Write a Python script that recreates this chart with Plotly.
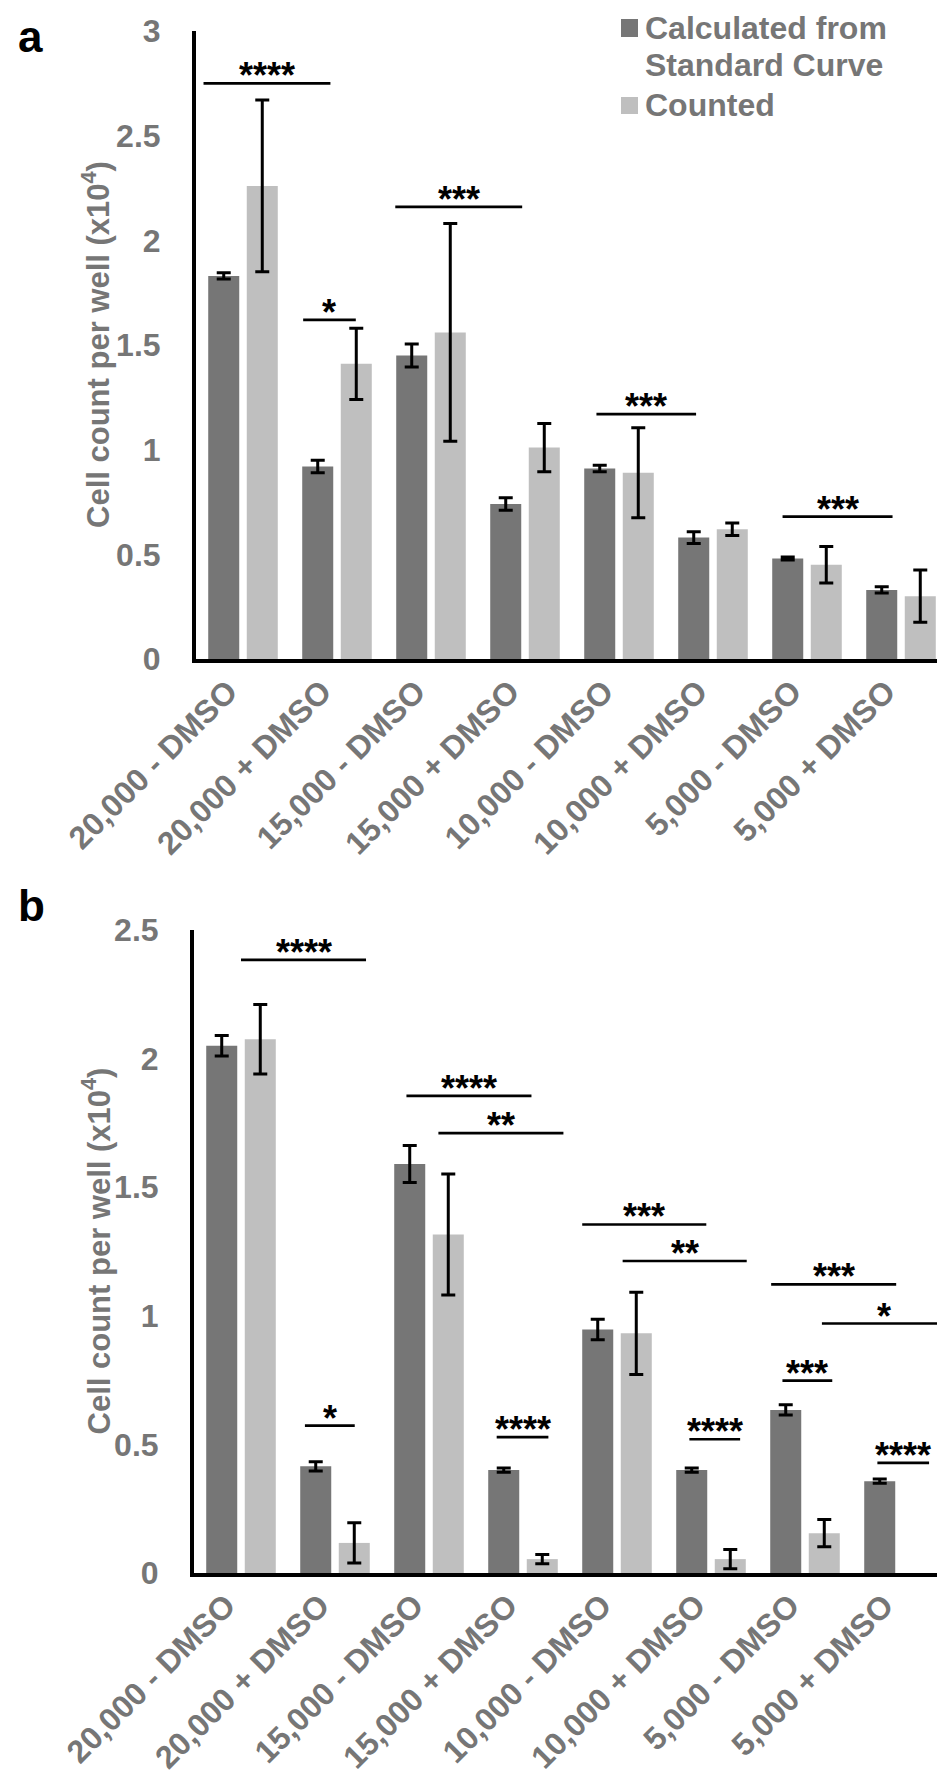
import plotly.graph_objects as go

# categories shared by both panels
categories = ["20,000 - DMSO", "20,000 + DMSO", "15,000 - DMSO", "15,000 + DMSO",
              "10,000 - DMSO", "10,000 + DMSO", "5,000 - DMSO", "5,000 + DMSO"]

# panel a (x10^4 cells per well)
calc_a = [1.83, 0.92, 1.45, 0.74, 0.91, 0.58, 0.48, 0.33]
calc_a_err = [0.015, 0.03, 0.055, 0.03, 0.015, 0.028, 0.007, 0.015]
count_a = [2.26, 1.41, 1.56, 1.01, 0.89, 0.62, 0.45, 0.30]
count_a_err = [0.41, 0.17, 0.52, 0.115, 0.215, 0.03, 0.087, 0.125]

# panel b
calc_b = [2.05, 0.415, 1.59, 0.40, 0.947, 0.40, 0.634, 0.357]
calc_b_err = [0.04, 0.018, 0.072, 0.008, 0.04, 0.008, 0.02, 0.008]
count_b = [2.075, 0.117, 1.316, 0.054, 0.932, 0.054, 0.155, None]
count_b_err = [0.135, 0.078, 0.235, 0.018, 0.16, 0.037, 0.053, None]

# significance bars: (start, end) in category units, height, label
sig_a_start = [-0.42, 0.64, 1.62, 3.76, 5.74]
sig_a_end = [0.93, 1.20, 2.97, 4.82, 6.91]
sig_a_y = [2.75, 1.62, 2.16, 1.17, 0.68]
sig_a_text = ["****", "*", "***", "***", "***"]

sig_b_start = [-0.30, 0.00, 0.68, 1.76, 2.10, 2.72, 3.63, 4.06, 4.77, 5.64, 6.18, 5.76, 6.77]
sig_b_end = [1.01, 1.33, 1.21, 3.09, 3.43, 3.27, 4.95, 5.38, 5.31, 6.97, 7.50, 6.29, 7.32]
sig_b_y = [2.524, 2.384, 0.573, 1.855, 1.71, 0.528, 1.355, 1.213, 0.52, 1.122, 0.97, 0.748, 0.428]
sig_b_text = ["****", "****", "*", "****", "**", "****", "***", "**", "****", "***", "*", "***", "****"]

legend_names = ["Calculated from", "Standard Curve", "Counted"]

DARK = "#767676"
LIGHT = "#bfbfbf"
GREY_TXT = "#767676"
FONT = "Liberation Sans"
W, H = 945, 1777

positions = list(range(len(categories)))

fig = go.Figure()


def add_panel(calc, calc_err, count, count_err, xa, ya):
    fig.add_trace(go.Bar(
        x=positions, y=calc, width=0.33, offset=-0.37,
        marker=dict(color=DARK, line=dict(width=0)),
        error_y=dict(type="data", array=calc_err, color="black", thickness=3, width=7),
        xaxis=xa, yaxis=ya, showlegend=False, name="Calculated from Standard Curve"
    ))
    fig.add_trace(go.Bar(
        x=positions, y=count, width=0.33, offset=0.04,
        marker=dict(color=LIGHT, line=dict(width=0)),
        error_y=dict(type="data", array=count_err, color="black", thickness=3, width=7),
        xaxis=xa, yaxis=ya, showlegend=False, name="Counted"
    ))


def add_sig(starts, ends, ys, texts, xa, ya):
    for s, e, y, t in zip(starts, ends, ys, texts):
        fig.add_trace(go.Scatter(
            x=[s, e], y=[y, y], mode="lines", line=dict(color="black", width=2.7),
            xaxis=xa, yaxis=ya, showlegend=False, hoverinfo="skip", cliponaxis=False
        ))
        fig.add_annotation(
            x=(s + e) / 2, y=y, xref=xa, yref=ya, text=f"<b>{t}</b>", showarrow=False,
            xanchor="center", yanchor="bottom", yshift=-15,
            font=dict(family=FONT, size=36, color="black")
        )


add_panel(calc_a, calc_a_err, count_a, count_a_err, "x", "y")
add_panel(calc_b, calc_b_err, count_b, count_b_err, "x2", "y2")
add_sig(sig_a_start, sig_a_end, sig_a_y, sig_a_text, "x", "y")
add_sig(sig_b_start, sig_b_end, sig_b_y, sig_b_text, "x2", "y2")

axis_common = dict(showline=True, linecolor="black", linewidth=4, showgrid=False,
                   zeroline=False, ticks="", mirror=False, automargin=False)
tickfont = dict(family=FONT, size=32, color=GREY_TXT, weight="bold")
xtick = dict(range=[-0.5, 7.5], tickvals=positions, ticktext=categories, tickangle=-45,
             tickfont=tickfont, ticklabelstandoff=-3, ticklabelshift=-15)

fig.update_layout(
    xaxis=dict(domain=[188 / W, 940 / W], anchor="y", **xtick, **axis_common),
    yaxis=dict(domain=[1 - 651 / H, 1 - 23 / H], range=[0, 3], dtick=0.5,
               tickfont=tickfont, ticklabelstandoff=25, anchor="x", **axis_common),
    xaxis2=dict(domain=[186 / W, 938 / W], anchor="y2", **xtick, **axis_common),
    yaxis2=dict(domain=[1 - 1565 / H, 1 - 922 / H], range=[0, 2.5], dtick=0.5,
                tickfont=tickfont, ticklabelstandoff=25, anchor="x2", **axis_common),
    width=W, height=H,
    margin=dict(l=0, r=0, t=0, b=0, autoexpand=False),
    paper_bgcolor="white", plot_bgcolor="white",
    barmode="overlay",
    showlegend=False,
)

# legend drawn by hand (swatches + text) to match the two-line entry
for y0, y1, col in [(11, 29, DARK), (89, 106, LIGHT)]:
    fig.add_shape(type="rect", xref="paper", yref="paper",
                  x0=613 / W, x1=630 / W, y0=1 - y1 / H, y1=1 - y0 / H,
                  fillcolor=col, line=dict(width=0))
for name, yc in zip(legend_names, [20, 57, 97]):
    fig.add_annotation(x=635 / W, y=1 - yc / H, xref="paper", yref="paper", showarrow=False,
                       xanchor="left", yanchor="middle", text=name,
                       font=dict(family=FONT, size=32, color=GREY_TXT, weight="bold"))

# y-axis titles
for yc in [1 - 337 / H, 1 - 1243.5 / H]:
    fig.add_annotation(x=88 / W, y=yc, xref="paper", yref="paper", showarrow=False,
                       xanchor="center", yanchor="middle",
                       text="Cell count per well (x10<sup>4</sup>)", textangle=-90,
                       font=dict(family=FONT, size=31, color=GREY_TXT, weight="bold"))

# panel letters
for letter, yc in [("a", 29), ("b", 897)]:
    fig.add_annotation(x=8 / W, y=1 - yc / H, xref="paper", yref="paper", xanchor="left", yanchor="middle",
                       showarrow=False, text=f"<b>{letter}</b>",
                       font=dict(family=FONT, size=44, color="black"))

fig.write_html("out.html")
